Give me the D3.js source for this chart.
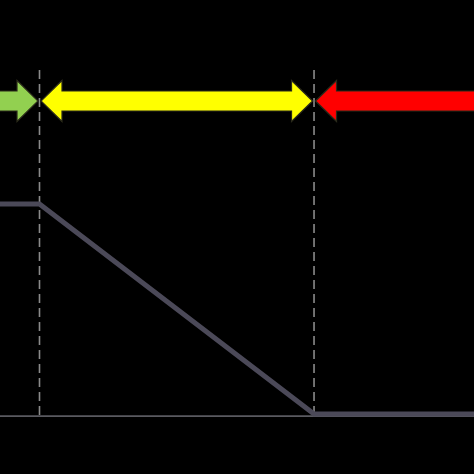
<!DOCTYPE html>
<html>
<head>
<meta charset="utf-8">
<script src="https://cdn.jsdelivr.net/npm/d3@7"></script>
<style>
  html, body { margin: 0; padding: 0; background: #000; }
  svg { display: block; }
</style>
</head>
<body>
<div id="chart"></div>
<script>
// zone boundaries (x units) and the response curve
const thresholds = [1, 7.95];
const curveX = [0, 1, 7.95, 12];
const curveY = [1, 1, 0, 0];
const zoneNames = ['low', 'mid', 'high'];
const zoneColors = ['#92d050', '#ffff00', '#ff0000'];

const width = 474, height = 474;

const svg = d3.select('#chart').append('svg')
    .attr('width', width)
    .attr('height', height)
    .style('background', '#000');

const x = d3.scaleLinear().domain([0, 12]).range([0, width]);
const y = d3.scaleLinear().domain([0, 1]).range([414, 204]);

// baseline
svg.append('line')
    .attr('x1', x(0)).attr('x2', x(12))
    .attr('y1', y(-0.01)).attr('y2', y(-0.01))
    .attr('stroke', '#5a5a60')
    .attr('stroke-width', 1.6);

// dashed threshold lines
svg.selectAll('.thr')
    .data(thresholds)
  .enter().append('line')
    .attr('class', 'thr')
    .attr('x1', d => x(d)).attr('x2', d => x(d))
    .attr('y1', 70).attr('y2', y(-0.01))
    .attr('stroke', '#8a8a8a')
    .attr('stroke-width', 1.6)
    .attr('stroke-dasharray', '9,5');

// response curve
const line = d3.line().x(d => x(d[0])).y(d => y(d[1]));
svg.append('path')
    .datum(d3.zip(curveX, curveY))
    .attr('d', line)
    .attr('fill', 'none')
    .attr('stroke', '#4b4958')
    .attr('stroke-width', 5)
    .attr('stroke-linejoin', 'miter');

// zone arrows
const ay = 101, body = 10, head = 20.5, headLen = 21, gap = 1.5;
function arrowPath(x0, x1, left, right) {
  const p = d3.path();
  const a = left ? x0 + gap + headLen : x0;
  const b = right ? x1 - gap - headLen : x1;
  p.moveTo(a, ay - body);
  p.lineTo(b, ay - body);
  if (right) {
    p.lineTo(b, ay - head);
    p.lineTo(x1 - gap, ay);
    p.lineTo(b, ay + head);
  }
  p.lineTo(b, ay + body);
  p.lineTo(a, ay + body);
  if (left) {
    p.lineTo(a, ay + head);
    p.lineTo(x0 + gap, ay);
    p.lineTo(a, ay - head);
  }
  p.closePath();
  return p.toString();
}

const zones = [
  { name: zoneNames[0], from: -0.2, to: thresholds[0], left: false, right: true },
  { name: zoneNames[1], from: thresholds[0], to: thresholds[1], left: true, right: true },
  { name: zoneNames[2], from: thresholds[1], to: 12.2, left: true, right: false }
];

svg.selectAll('.zone')
    .data(zones)
  .enter().append('path')
    .attr('class', 'zone')
    .attr('d', d => arrowPath(x(d.from), x(d.to), d.left, d.right))
    .attr('fill', (d, i) => zoneColors[i])
    .attr('stroke', '#2a2a1a')
    .attr('stroke-width', 1.2);
</script>
</body>
</html>
